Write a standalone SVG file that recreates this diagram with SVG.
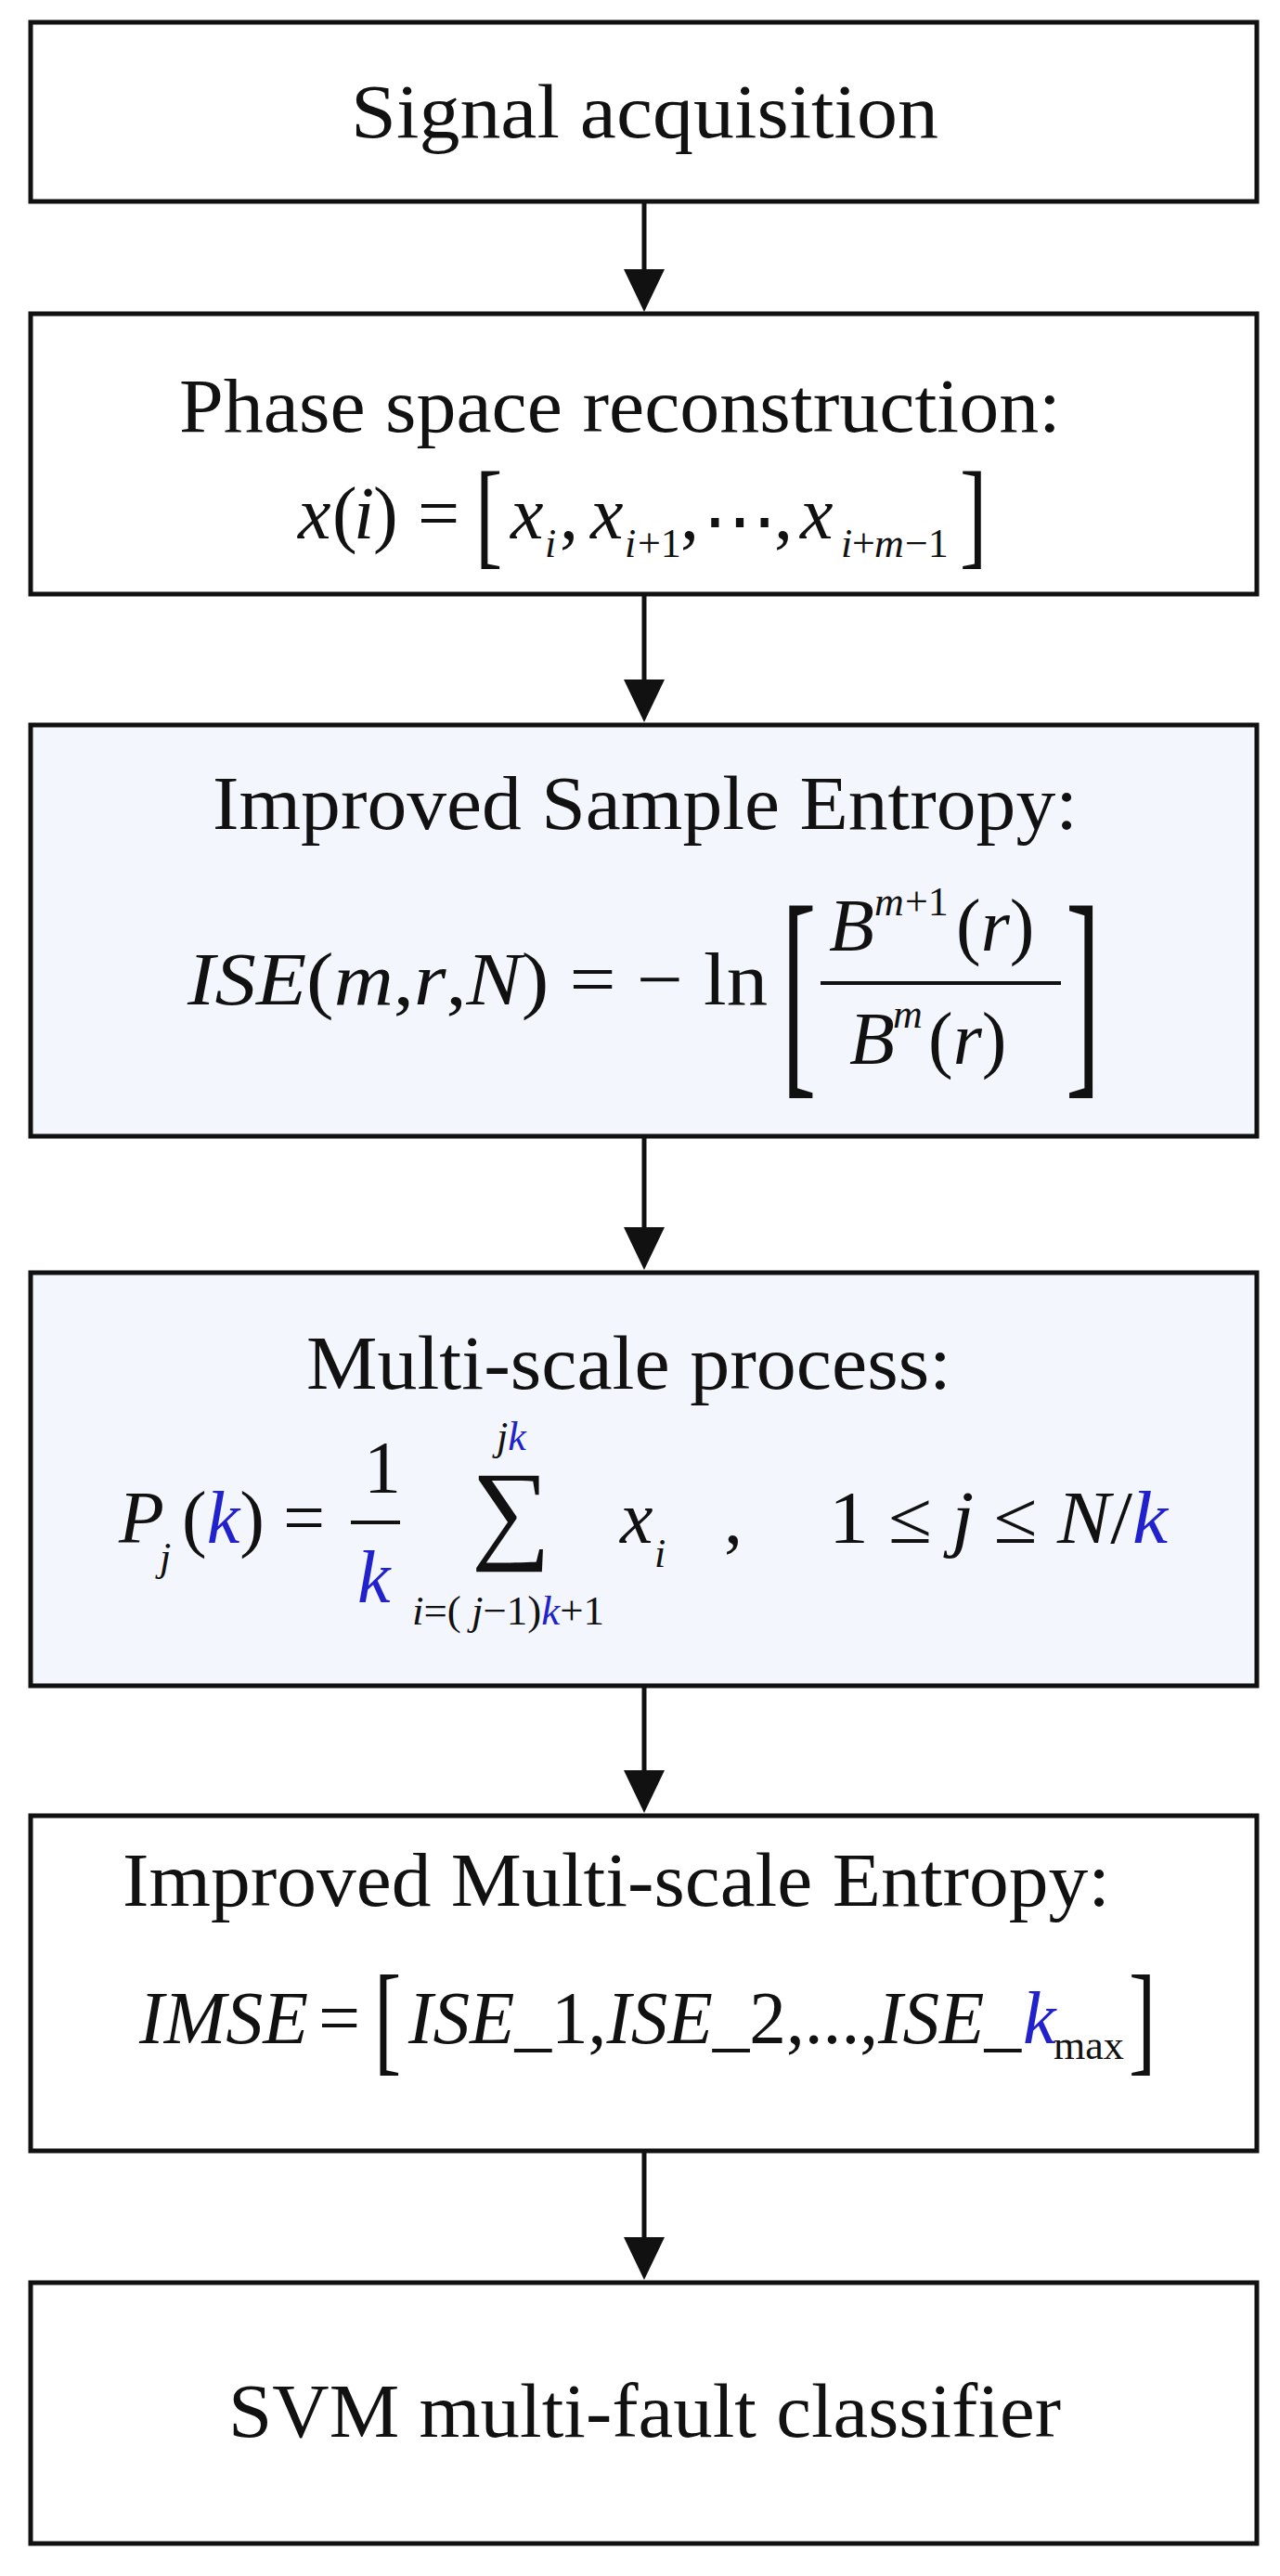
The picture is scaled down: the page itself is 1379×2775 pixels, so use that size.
<svg xmlns="http://www.w3.org/2000/svg" width="1379" height="2775" viewBox="0 0 1379 2775">
<style>
.box{fill:#fff;stroke:#111;stroke-width:5}
.sh{fill:#f3f6fc;stroke:#111;stroke-width:5}
text{font-family:"Liberation Serif","Times New Roman",serif;fill:#111}
.t{font-size:82px}
.m{font-size:80px}
.i{font-style:italic}
.s{font-size:44px}
.b{fill:#2222cc}
.c{stroke:#111;stroke-width:5;fill:none}
</style>
<g id="n1"><rect class="box" x="33" y="24" width="1321" height="193"/>
<text class="t" x="378" y="148" textLength="633" lengthAdjust="spacingAndGlyphs">Signal  acquisition</text></g>
<g id="n2"><rect class="box" x="33" y="338" width="1321" height="302"/>
<text class="t" x="193" y="465" textLength="950" lengthAdjust="spacingAndGlyphs">Phase space reconstruction:</text>
<text class="m i" x="321" y="580">x</text><text class="m" x="358" y="580">(</text><text class="m i" x="381" y="580">i</text><text class="m" x="402" y="580">)</text>
<text class="m" x="450" y="580">=</text>
<text font-size="110" transform="translate(512,596) scale(0.8,1.15)">[</text>
<text class="m i" x="550" y="580">x</text><text class="s i" x="587" y="600">i</text><text class="m" x="603" y="580">,</text>
<text class="m i" x="636" y="580">x</text><text class="s i" x="673" y="600">i</text><text class="s" x="687" y="600">+1</text><text class="m" x="733" y="580">,</text>
<text class="m" x="757" y="588">⋯</text><text class="m" x="834" y="580">,</text>
<text class="m i" x="862" y="580">x</text><text class="s i" x="906" y="600">i</text><text class="s" x="918" y="600">+</text><text class="s i" x="942" y="600">m</text><text class="s" x="975" y="600">−1</text>
<text font-size="110" transform="translate(1034,596) scale(0.8,1.15)">]</text></g>
<g id="n3"><rect class="sh" x="33" y="781" width="1321" height="443"/>
<text class="t" x="229" y="893" textLength="932" lengthAdjust="spacingAndGlyphs">Improved Sample Entropy:</text>
<text class="m" x="202" y="1082" textLength="625" lengthAdjust="spacingAndGlyphs"><tspan class="i">ISE</tspan>(<tspan class="i">m</tspan>,<tspan class="i">r</tspan>,<tspan class="i">N</tspan>) = − ln</text>
<text font-size="250" transform="translate(842,1150) scale(0.45,1)">[</text>
<text class="m i" x="893" y="1024">B</text><text class="s i" x="942" y="986">m</text><text class="s" x="975" y="986">+1</text><text class="m" x="1030" y="1024">(<tspan class="i">r</tspan>)</text>
<line x1="884" y1="1059" x2="1143" y2="1059" stroke="#111" stroke-width="4"/>
<text class="m i" x="915" y="1146">B</text><text class="s i" x="962" y="1107">m</text><text class="m" x="1000" y="1146">(<tspan class="i">r</tspan>)</text>
<text font-size="250" transform="translate(1148,1150) scale(0.45,1)">]</text></g>
<g id="n4"><rect class="sh" x="33" y="1371" width="1321" height="445"/>
<text class="t" x="330" y="1496" textLength="695" lengthAdjust="spacingAndGlyphs">Multi-scale process:</text>
<text class="m i" x="128" y="1662">P</text><text class="s i" x="172" y="1692">j</text>
<text class="m" x="196" y="1662">(<tspan class="i b">k</tspan>)</text><text class="m" x="305" y="1662">=</text>
<text class="m" x="392" y="1608">1</text><line x1="378" y1="1640" x2="431" y2="1640" stroke="#111" stroke-width="4"/>
<text class="m i b" x="385" y="1726">k</text>
<text font-size="120" x="508" y="1668">∑</text>
<text class="s i" x="535" y="1562">j<tspan class="b">k</tspan></text>
<text class="s" x="444" y="1750" textLength="207" lengthAdjust="spacingAndGlyphs"><tspan class="i">i</tspan>=( <tspan class="i">j</tspan>−1)<tspan class="i b">k</tspan>+1</text>
<text class="m i" x="668" y="1662">x</text><text class="s i" x="705" y="1688">i</text>
<text class="m" x="780" y="1662">,</text>
<text class="m" x="893" y="1662" textLength="365" lengthAdjust="spacingAndGlyphs">1 ≤ <tspan class="i">j</tspan> ≤ <tspan class="i">N</tspan>/<tspan class="i b">k</tspan></text></g>
<g id="n5"><rect class="box" x="33" y="1956" width="1321" height="361"/>
<text class="t" x="132" y="2053" textLength="1064" lengthAdjust="spacingAndGlyphs">Improved Multi-scale Entropy:</text>
<text class="m i" x="150" y="2201">IMSE</text><text class="m" x="343" y="2201">=</text>
<text font-size="110" transform="translate(403,2218) scale(0.8,1.2)">[</text>
<text class="m" x="440" y="2201" textLength="660" lengthAdjust="spacingAndGlyphs"><tspan class="i">ISE</tspan>_1,<tspan class="i">ISE</tspan>_2,...,<tspan class="i">ISE</tspan>_</text>
<text class="m i b" x="1102" y="2201">k</text><text class="s" x="1135" y="2218">max</text>
<text font-size="110" transform="translate(1216,2218) scale(0.8,1.2)">]</text></g>
<g id="n6"><rect class="box" x="33" y="2459" width="1321" height="281"/>
<text class="t" x="246" y="2625" textLength="897" lengthAdjust="spacingAndGlyphs">SVM multi-fault classifier</text></g>
<g id="connectors">
<line class="c" x1="694" y1="219" x2="694" y2="290"/><path d="M672,290 L716,290 L694,336 Z" fill="#111"/>
<line class="c" x1="694" y1="642" x2="694" y2="732"/><path d="M672,732 L716,732 L694,778 Z" fill="#111"/>
<line class="c" x1="694" y1="1226" x2="694" y2="1322"/><path d="M672,1322 L716,1322 L694,1368 Z" fill="#111"/>
<line class="c" x1="694" y1="1818" x2="694" y2="1907"/><path d="M672,1907 L716,1907 L694,1953 Z" fill="#111"/>
<line class="c" x1="694" y1="2319" x2="694" y2="2410"/><path d="M672,2410 L716,2410 L694,2456 Z" fill="#111"/>
</g>
</svg>
